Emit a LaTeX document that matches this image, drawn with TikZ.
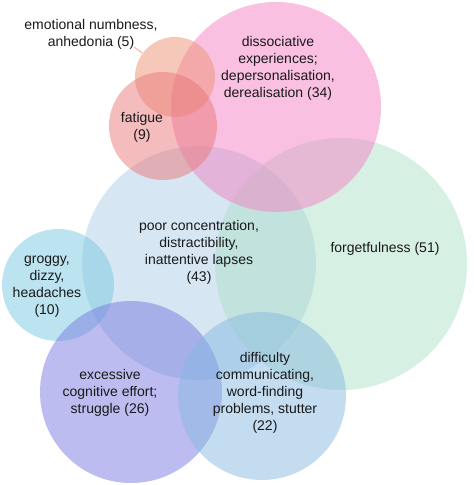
\documentclass[tikz,border=0pt]{standalone}
\usepackage{fontspec}
\setmainfont{Liberation Sans}
\usetikzlibrary{positioning}
\definecolor{numbcol}{RGB}{237,145,115}
\definecolor{fatiguecol}{RGB}{233,121,121}
\definecolor{dissoccol}{RGB}{243,129,195}
\definecolor{concentcol}{RGB}{173,205,229}
\definecolor{forgetcol}{RGB}{175,225,201}
\definecolor{groggycol}{RGB}{121,201,225}
\definecolor{effortcol}{RGB}{121,121,225}
\definecolor{commcol}{RGB}{135,185,225}

\begin{document}
\begin{tikzpicture}[x=1pt, y=-1pt, thick,
    font=\fontsize{14}{17}\selectfont,
    bubble/.style={circle, inner sep=0pt, draw=none, fill opacity=0.5},
    tag/.style={align=center, text=black!90, inner sep=0pt}]
        \useasboundingbox (0,0) rectangle (474,485);
        % circles
        \node[bubble, fill=concentcol, minimum size=234pt] (concent) at (199,263) {};
        \node[bubble, fill=forgetcol, minimum size=252pt] (forget) at (341,264) {};
        \node[bubble, fill=dissoccol, minimum size=210pt] (dissoc) at (276,107) {};
        \node[bubble, fill=numbcol, minimum size=80pt] (numb) at (175,77) {};
        \node[bubble, fill=fatiguecol, minimum size=108pt] (fatigue) at (163,126) {};
        \node[bubble, fill=groggycol, minimum size=112pt] (groggy) at (58,285) {};
        \node[bubble, fill=effortcol, minimum size=182pt] (effort) at (131,392) {};
        \node[bubble, fill=commcol, minimum size=168pt] (comm) at (262,396) {};

        % labels
        \node[tag] (numblabel) at (91,34) {emotional numbness,\\anhedonia (5)};
        \node[tag] (fatiguelabel) at (142,127) {fatigue\\(9)};
        \node[tag] (dissoclabel) at (278,68) {dissociative\\experiences;\\depersonalisation,\\derealisation (34)};
        \node[tag] (concentlabel) at (199,252) {poor concentration,\\distractibility,\\inattentive lapses\\(43)};
        \node[tag] (forgetlabel) at (385,249) {forgetfulness (51)};
        \node[tag] (groggylabel) at (47,287) {groggy,\\dizzy,\\headaches\\(10)};
        \node[tag] (effortlabel) at (110,393) {excessive\\cognitive effort;\\struggle (26)};
        \node[tag] (commlabel) at (265,393) {difficulty\\communicating,\\word-finding\\problems, stutter\\(22)};

        \coordinate (numbend) at (134,47);
        \draw[numbcol!60, line width=1.2pt] (numbend) -- (numb);
    \end{tikzpicture}
\end{document}
